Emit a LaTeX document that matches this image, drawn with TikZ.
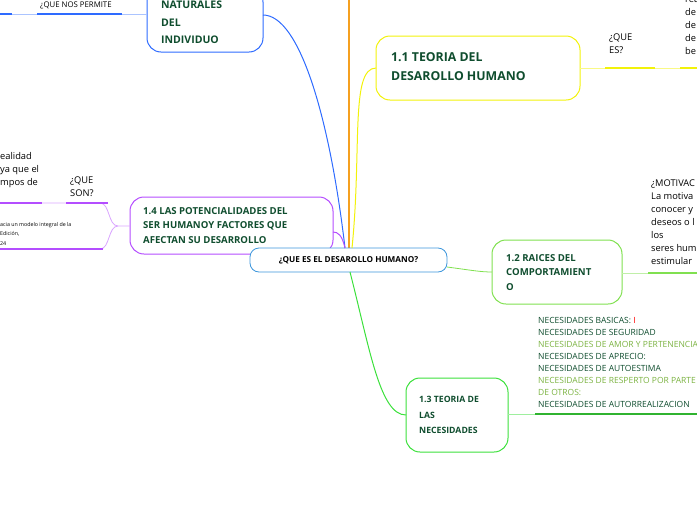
\documentclass[tikz,border=0pt]{standalone}
\usepackage{fontspec}
\setmainfont{Open Sans}
\begin{document}
\begin{tikzpicture}[x=1pt,y=-1pt,
  tnode/.style={draw,line width=1pt,rounded corners=14pt,align=left,anchor=north west,inner sep=0pt,font=\bfseries,text=dgreen},
  lbl/.style={anchor=north west,align=left,inner sep=0pt,font=\fontsize{9.3}{13}\selectfont}]
\definecolor{dgreen}{HTML}{0F4D2E}
\definecolor{cblue}{HTML}{2E6BFF}
\definecolor{cyel}{HTML}{F2F20A}
\definecolor{cgreen}{HTML}{80E050}
\definecolor{cgr2}{HTML}{3CE03C}
\definecolor{cpur}{HTML}{B44DFF}
\definecolor{corg}{HTML}{F5A020}
\definecolor{lgreen}{HTML}{7CB342}
\useasboundingbox (0,0) rectangle (697,520);
\begin{scope}
\clip (0,0) rectangle (697,520);
\draw[corg,line width=1.2pt] (349,0) -- (349,250);
\draw[tnode,draw=cblue] (147,-12) rectangle (263,52);
\node[lbl,font=\bfseries\fontsize{10.5}{17.5}\selectfont,text=dgreen] (nat) at (161,1) {NATURALES\\DEL\\INDIVIDUO};
\coordinate (natR) at (263,15);
\coordinate (natL) at (147,14);
\draw[tnode,draw=cyel] (376,36) rectangle (580,100);
\node[lbl,font=\bfseries\fontsize{12.3}{19}\selectfont,text=dgreen] (t11) at (391,52) {1.1 TEORIA DEL\\DESAROLLO HUMANO};
\coordinate (t11L) at (376,68); \coordinate (t11R) at (580,68);
\draw[tnode,draw=cgreen] (492,240) rectangle (622,304);
\node[lbl,font=\bfseries\fontsize{9.6}{14.5}\selectfont,text=dgreen] (t12) at (506,254) {1.2 RAICES DEL\\COMPORTAMIENT\\O};
\coordinate (t12L) at (492,272); \coordinate (t12R) at (622,273);
\draw[tnode,draw=cgr2] (406,378) rectangle (508,452);
\node[lbl,font=\bfseries\fontsize{8.7}{15.5}\selectfont,text=dgreen] (t13) at (419,396) {1.3 TEORIA DE\\LAS\\NECESIDADES};
\coordinate (t13L) at (406,415); \coordinate (t13R) at (508,414);
\draw[tnode,draw=cpur] (130,197) rectangle (333,254);
\node[lbl,font=\bfseries\fontsize{9.6}{14.5}\selectfont,text=dgreen] (t14) at (143,207) {1.4 LAS POTENCIALIDADES DEL\\SER HUMANOY FACTORES QUE\\AFECTAN SU DESARROLLO};
\coordinate (t14L) at (130,226); \coordinate (t14R) at (333,232);
\node[draw={rgb,255:red,60;green,150;blue,220},line width=0.8pt,rounded corners=9pt,minimum width=197pt,minimum height=24pt,font=\bfseries\fontsize{8.2}{10}\selectfont,text=black,fill=white] (c) at (348.5,260) {¿QUE ES EL DESAROLLO HUMANO?};
\draw[cblue,line width=1pt] (345,248) .. controls (330,120) and (300,15) .. (natR);
\draw[cyel,line width=1pt] (352,248) .. controls (362,150) and (350,68) .. (t11L);
\draw[cgreen,line width=0.8pt] (447,267) .. controls (470,270) and (480,272) .. (t12L);
\draw[cgr2,line width=1pt] (350,272) .. controls (370,350) and (380,415) .. (t13L);
\draw[cpur,line width=1pt] (345,248) .. controls (342,235) and (338,232) .. (t14R);
\draw[cblue!40,line width=0.8pt] (natL) -- (0,14);
\draw[cblue,line width=1.3pt] (0,14) -- (12,14) (37,14) -- (122,14);
\node[lbl,font=\fontsize{7.8}{9}\selectfont] (q0) at (40,2) {¿QUE NOS PERMITE};
\draw[cyel!50,line width=0.8pt] (t11R) -- (697,68);
\draw[cyel,line width=1.5pt] (605,68) -- (655,68) (680,68) -- (697,68);
\node[lbl] (q1) at (609,34) {¿QUE\\ES?};
\node[lbl] (tx1) at (685,-3) {rea\\de\\de\\de\\be};
\draw[cgreen!50,line width=0.8pt] (t12R) -- (697,273);
\draw[cgreen,line width=1.5pt] (648,273) -- (697,273);
\node[lbl] (tx2) at (651,180) {¿MOTIVAC\\La motiva\\conocer y\\deseos o l\\los\\seres hum\\estimular};
\draw[cgr2!50,line width=0.8pt] (t13R) -- (697,414);
\draw[cgr2!80!black,line width=1.5pt] (535,414) -- (697,414);
\node[lbl,font=\fontsize{8.5}{12}\selectfont] (tx3) at (538,317) {\color{dgreen}NECESIDADES BASICAS: \color{red}I\\
\color{dgreen}NECESIDADES DE SEGURIDAD\\
\color{lgreen}NECESIDADES DE AMOR Y PERTENENCIA\\
\color{dgreen}NECESIDADES DE APRECIO:\\
\color{dgreen}NECESIDADES DE AUTOESTIMA\\
\color{lgreen}NECESIDADES DE RESPERTO POR PARTE\\
\color{lgreen}DE OTROS:\\
\color{dgreen}NECESIDADES DE AUTORREALIZACION};
\draw[cpur!50,line width=0.8pt] (t14L) -- (118,226) .. controls (108,226) and (110,203) .. (100,203) -- (0,203);
\draw[cpur!50,line width=0.8pt] (118,226) .. controls (108,226) and (110,249) .. (100,249) -- (0,249);
\draw[cpur,line width=1.5pt] (0,203) -- (42,203) (66,203) -- (108,203);
\draw[cpur,line width=1.5pt] (0,249) -- (103,249);
\node[lbl] (q4) at (70,177) {¿QUE\\SON?};
\node[lbl] (tx4) at (0,152) {ealidad\\ya que el\\mpos de};
\node[lbl,font=\fontsize{5.3}{9.5}\selectfont] (tx5) at (0,222) {acia un modelo integral de la\\ Edición,\\24};
\end{scope}
\end{tikzpicture}
\end{document}
